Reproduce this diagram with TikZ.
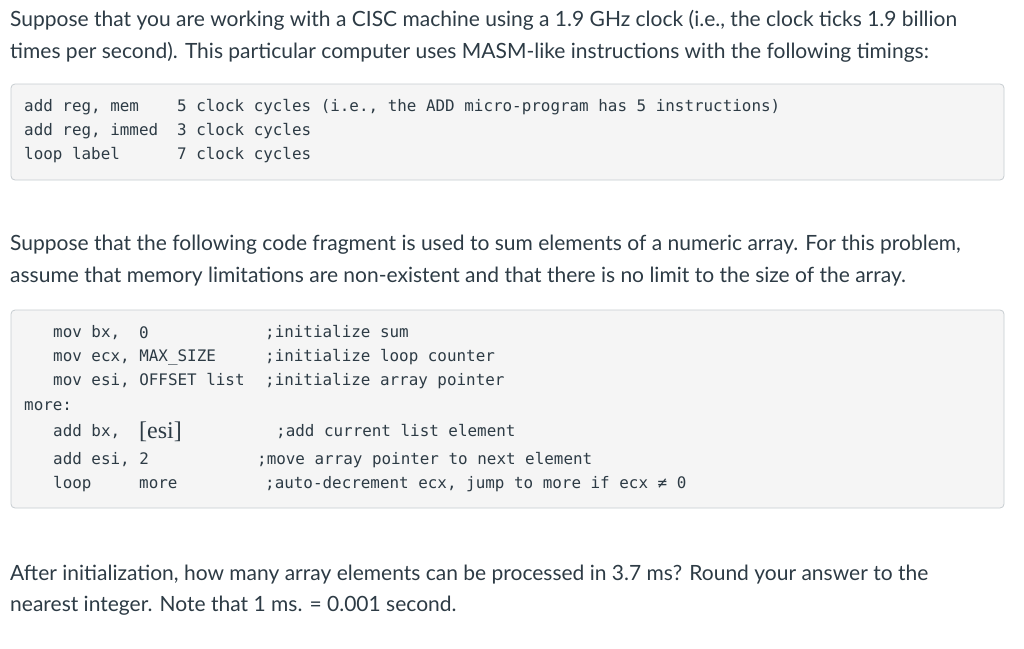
\documentclass[tikz,border=0pt]{standalone}
\usepackage{fontspec}
\setmainfont{Lato}
\setmonofont{DejaVu Sans Mono}
\definecolor{txt}{HTML}{2D3B45}
\definecolor{boxbg}{HTML}{F5F5F5}
\definecolor{boxln}{HTML}{C7CDD1}
\begin{document}
\begin{tikzpicture}[x=1pt,y=-1pt,
 body/.style={anchor=west,inner sep=0pt,text=txt,font=\fontsize{21}{24}\selectfont},
 code/.style={anchor=west,inner sep=0pt,text=txt,font=\fontsize{15.9}{20}\ttfamily},
 cbox/.style={draw=boxln,fill=boxbg,rounded corners=4pt,line width=0.8pt}]
\useasboundingbox[fill=white] (0,0) rectangle (1024,648);
\node[body] (p1) at (10,20) {Suppose that you are working with a CISC machine using a 1.9 GHz clock (i.e., the clock ticks 1.9 billion};
\node[body] (p2) at (10,52) {times per second). This particular computer uses MASM-like instructions with the following timings:};
\draw[cbox] (11,84) rectangle (1004,180);
\node[code] (a1) at (24,107) {add reg, mem};
\node[code] (a2) at (24,131) {add reg, immed};
\node[code] (a3) at (24,155) {loop label};
\node[code] (b1) at (177,107) {5 clock cycles (i.e., the ADD micro-program has 5 instructions)};
\node[code] (b2) at (177,131) {3 clock cycles};
\node[code] (b3) at (177,155) {7 clock cycles};
\node[body] (q1) at (10,245) {Suppose that the following code fragment is used to sum elements of a numeric array. For this problem,};
\node[body] (q2) at (10,277) {assume that memory limitations are non-existent and that there is no limit to the size of the array.};
\draw[cbox] (11,310) rectangle (1004,508);
\node[code] (c1) at (53,333) {mov bx,};
\node[code] (c1b) at (139,333) {0};
\node[code] (c2) at (53,357) {mov ecx, MAX\_SIZE};
\node[code] (c3) at (53,381) {mov esi, OFFSET list};
\node[code] (c4) at (24,406) {more:};
\node[code] (c5) at (53,432) {add bx,};
\node[anchor=west,inner sep=0pt,text=txt,font=\fontsize{24}{26}\fontspec{Liberation Serif}] (c5b) at (139,432) {[esi]};
\node[code] (c6) at (53,460) {add esi, 2};
\node[code] (c7) at (53,484) {loop};
\node[code] (c7b) at (139,484) {more};
\node[code] (d1) at (265,333) {;initialize sum};
\node[code] (d2) at (265,357) {;initialize loop counter};
\node[code] (d3) at (265,381) {;initialize array pointer};
\node[code] (d5) at (276,432) {;add current list element};
\node[code] (d6) at (257,460) {;move array pointer to next element};
\node[code] (d7) at (265,484) {;auto-decrement ecx, jump to more if ecx ≠ 0};
\node[body] (r1) at (10,575) {After initialization, how many array elements can be processed in 3.7 ms? Round your answer to the};
\node[body] (r2) at (10,606) {nearest integer. Note that 1 ms. = 0.001 second.};
\end{tikzpicture}
\end{document}
